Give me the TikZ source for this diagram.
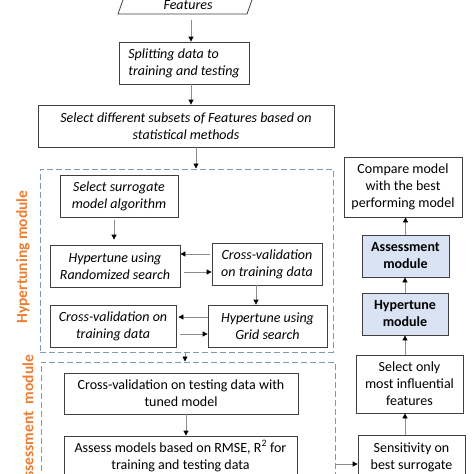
\documentclass[tikz,border=0pt]{standalone}
\usepackage{fontspec}
\setmainfont{Carlito}
\usetikzlibrary{arrows.meta}
\definecolor{boxline}{HTML}{3F3F3F}
\definecolor{arrc}{HTML}{8C8C8C}
\definecolor{framec}{HTML}{8497B0}
\definecolor{labc}{HTML}{ED7D31}
\definecolor{modfill}{HTML}{DAE3F3}
\begin{document}
\begin{tikzpicture}[x=1pt, y=-1pt,
		box/.style={draw=boxline, line width=0.8pt, align=center, inner sep=1pt, font=\fontsize{14}{17}\selectfont},
		ibox/.style={box, font=\fontsize{14}{17}\selectfont\itshape},
		mbox/.style={box, fill=modfill, font=\fontsize{14}{17}\selectfont\bfseries},
		modframe/.style={draw=framec, line width=1pt, dash pattern=on 6pt off 3pt},
		lab/.style={rotate=90, text=labc, font=\fontsize{15.5}{16}\selectfont\bfseries},
		arr/.style={draw=arrc, line width=0.8pt, -{Triangle[black,length=5pt,width=5pt]}}]
		\useasboundingbox (0,0) rectangle (474,474);
		\clip (0,0) rectangle (474,474);
		% input data
		\draw[boxline, line width=0.8pt] (118,14) -- (247,14) -- (259,-20) -- (130,-20) -- cycle;
		\node[font=\fontsize{14}{17}\selectfont\itshape] (feat) at (188,5) {Features};
		\coordinate (featb) at (191,14);
		\node[ibox, align=left, minimum width=130, minimum height=42] (split) at (184,63) {Splitting data to\\training and testing};
		\node[ibox, minimum width=296, minimum height=42] (subsets) at (186,126) {Select different subsets of Features based on\\statistical methods};
		% hypertuning module
		\node[modframe, minimum width=293, minimum height=183] (hyp) at (186.5,260.5) {};
		\node[lab] (hyplab) at (23,257) {Hypertuning module};
		\node[ibox, minimum width=118, minimum height=42] (surr) at (119,196) {Select surrogate\\model algorithm};
		\node[ibox, minimum width=130, minimum height=42] (rand) at (115,266) {Hypertune using\\Randomized search};
		\node[ibox, minimum width=110, minimum height=42] (cvtr) at (267,264) {Cross-validation\\on training data};
		\node[ibox, minimum width=119, minimum height=42] (grid) at (267.5,326) {Hypertune using\\Grid search};
		\node[ibox, minimum width=126, minimum height=42] (cvtrb) at (113,326) {Cross-validation on\\training data};
		% assessment module
		\node[modframe, minimum width=294, minimum height=128] (asm) at (188,426) {};
		\node[lab] (asmlab) at (28,421) {Assessment\ \ module};
		\node[box, minimum width=234, minimum height=41] (cvte) at (181,393.5) {Cross-validation on testing data with\\tuned model};
		\node[box, minimum width=233, minimum height=40] (rmse) at (180.5,456) {Assess models based on RMSE, R\textsuperscript{2} for\\training and testing data};
		% right column
		\node[box, minimum width=118, minimum height=60] (comp) at (403,187) {Compare model\\with the best\\performing model};
		\node[mbox, minimum width=87, minimum height=42] (amod) at (405.5,256) {Assessment\\module};
		\node[mbox, minimum width=86, minimum height=42] (hmod) at (405,314) {Hypertune\\module};
		\node[box, minimum width=107, minimum height=58] (sel) at (409.5,384) {Select only\\most influential\\features};
		\node[box, minimum width=107, minimum height=44] (sens) at (411.5,457) {Sensitivity on\\best surrogate};
		% connectors
		\draw[arr, shorten <=6pt] (featb) -- (featb |- split.north);
		\draw[arr] (featb |- split.south) -- (featb |- subsets.north);
		\draw[arr] ([xshift=10pt]subsets.south) -- ([xshift=10pt]subsets.south |- hyp.north);
		\draw[arr, shorten <=3pt, shorten >=5pt] ([xshift=-5pt]surr.south) -- ([xshift=-5pt]surr.south |- rand.north);
		\draw[arr, shorten <=2pt] ([yshift=10pt]cvtr.west) -- ([yshift=10pt]cvtr.west -| rand.east);
		\draw[arr, shorten <=4pt] ([yshift=-6pt]rand.east) -- ([yshift=-6pt]rand.east -| cvtr.west);
		\draw[arr] ([xshift=-11pt]cvtr.south) -- ([xshift=-11pt]cvtr.south |- grid.north);
		\draw[arr, shorten >=2pt] ([yshift=9pt]grid.west) -- ([yshift=9pt]grid.west -| cvtrb.east);
		\draw[arr, shorten <=4pt] ([yshift=-8pt]cvtrb.east) -- ([yshift=-8pt]cvtrb.east -| grid.west);
		\draw[arr] ([xshift=-1.5pt]hyp.south) -- ([xshift=-1.5pt]hyp.south |- asm.north);
		\draw[arr] ([xshift=5pt]cvte.south) -- ([xshift=5pt]cvte.south |- rmse.north);
		\draw[arr] ([yshift=-7pt]sens.west -| asm.east) -- ([yshift=-7pt]sens.west);
		\draw[arr] ([xshift=-6.5pt]sens.north) -- ([xshift=-6.5pt]sens.north |- sel.south);
		\draw[arr] (hmod.south |- sel.north) -- (hmod.south);
		\draw[arr] (hmod.north) -- (hmod.north |- amod.south);
		\draw[arr] (amod.north) -- (amod.north |- comp.south);
\end{tikzpicture}
\end{document}
